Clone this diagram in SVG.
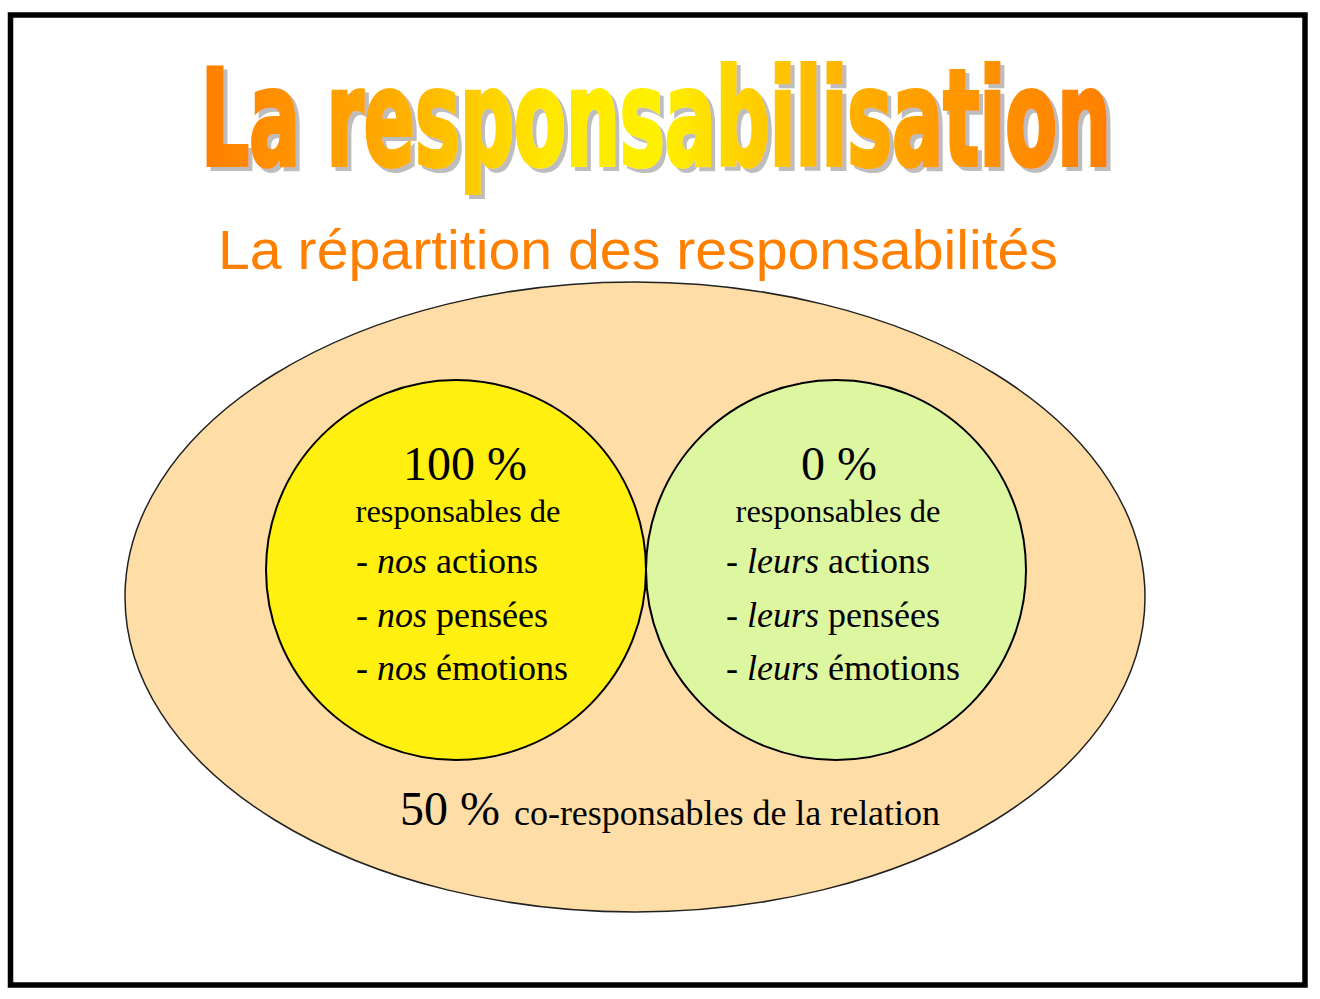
<svg xmlns="http://www.w3.org/2000/svg" width="1320" height="999" viewBox="0 0 1320 999">
<defs>
<linearGradient id="tg" gradientUnits="userSpaceOnUse" x1="0" y1="0" x2="917" y2="0">
<stop offset="0" stop-color="#FF7E00"/>
<stop offset="0.2" stop-color="#FFAA00"/>
<stop offset="0.38" stop-color="#FFE800"/>
<stop offset="0.5" stop-color="#FFF000"/>
<stop offset="0.62" stop-color="#FFC800"/>
<stop offset="0.8" stop-color="#FF9A00"/>
<stop offset="1" stop-color="#FF7E00"/>
</linearGradient>
<filter id="shadow" filterUnits="userSpaceOnUse" x="150" y="30" width="1020" height="200">
<feFlood flood-color="#BDBDBD" result="c"/>
<feComposite in="c" in2="SourceAlpha" operator="in" result="s"/>
<feOffset in="s" dx="4" dy="4" result="o"/>
<feMerge><feMergeNode in="o"/><feMergeNode in="SourceGraphic"/></feMerge>
</filter>
<style>
.title{font-family:"DejaVu Sans Condensed","DejaVu Sans","Liberation Sans",sans-serif;font-weight:bold;font-size:80px}
.sub{font-family:"Liberation Sans",Arial,sans-serif;font-size:56px;fill:#FF8000}
.tm{font-family:"Liberation Serif","Times New Roman",serif;fill:#000}
.big{font-size:48px}
.mid{font-size:32.5px}
.item{font-size:36px}
.it{font-style:italic}
.node{stroke:#000;stroke-width:2}
</style>
</defs>
<rect x="0" y="0" width="1320" height="999" fill="#FFFFFF"/>
<rect x="10.5" y="15" width="1294.5" height="970" fill="#FFFFFF" stroke="#000" stroke-width="5.5"/>
<g id="title" filter="url(#shadow)">
<text class="title" transform="translate(201,165) scale(1,1.6625)" x="0" y="0" fill="url(#tg)" stroke="url(#tg)" stroke-width="2.5" textLength="910" lengthAdjust="spacingAndGlyphs">La responsabilisation</text>
</g>
<g id="subtitle">
<text class="sub" x="218" y="269" textLength="840" lengthAdjust="spacingAndGlyphs">La répartition des responsabilités</text>
</g>
<g id="relation">
<ellipse cx="635" cy="597" rx="510" ry="315" fill="#FFDDA6" stroke="#222" stroke-width="1.5"/>
<text class="tm" x="400" y="825"><tspan class="big">50 %</tspan><tspan class="item" x="514" textLength="426">co-responsables de la relation</tspan></text>
</g>
<g id="nous">
<circle class="node" cx="456" cy="570" r="190" fill="#FFF00F"/>
<text class="tm big" x="465" y="480" text-anchor="middle">100 %</text>
<text class="tm mid" x="458" y="522" text-anchor="middle">responsables de</text>
<text class="tm item" x="356" y="573">- <tspan class="it">nos</tspan> actions</text>
<text class="tm item" x="356" y="626.5">- <tspan class="it">nos</tspan> pensées</text>
<text class="tm item" x="356" y="680">- <tspan class="it">nos</tspan> émotions</text>
</g>
<g id="eux">
<circle class="node" cx="836" cy="570" r="190" fill="#DDF7A0"/>
<text class="tm big" x="839" y="480" text-anchor="middle">0 %</text>
<text class="tm mid" x="838" y="522" text-anchor="middle">responsables de</text>
<text class="tm item" x="726" y="573">- <tspan class="it">leurs</tspan> actions</text>
<text class="tm item" x="726" y="626.5">- <tspan class="it">leurs</tspan> pensées</text>
<text class="tm item" x="726" y="680">- <tspan class="it">leurs</tspan> émotions</text>
</g>
<g id="connectors"></g>
</svg>
